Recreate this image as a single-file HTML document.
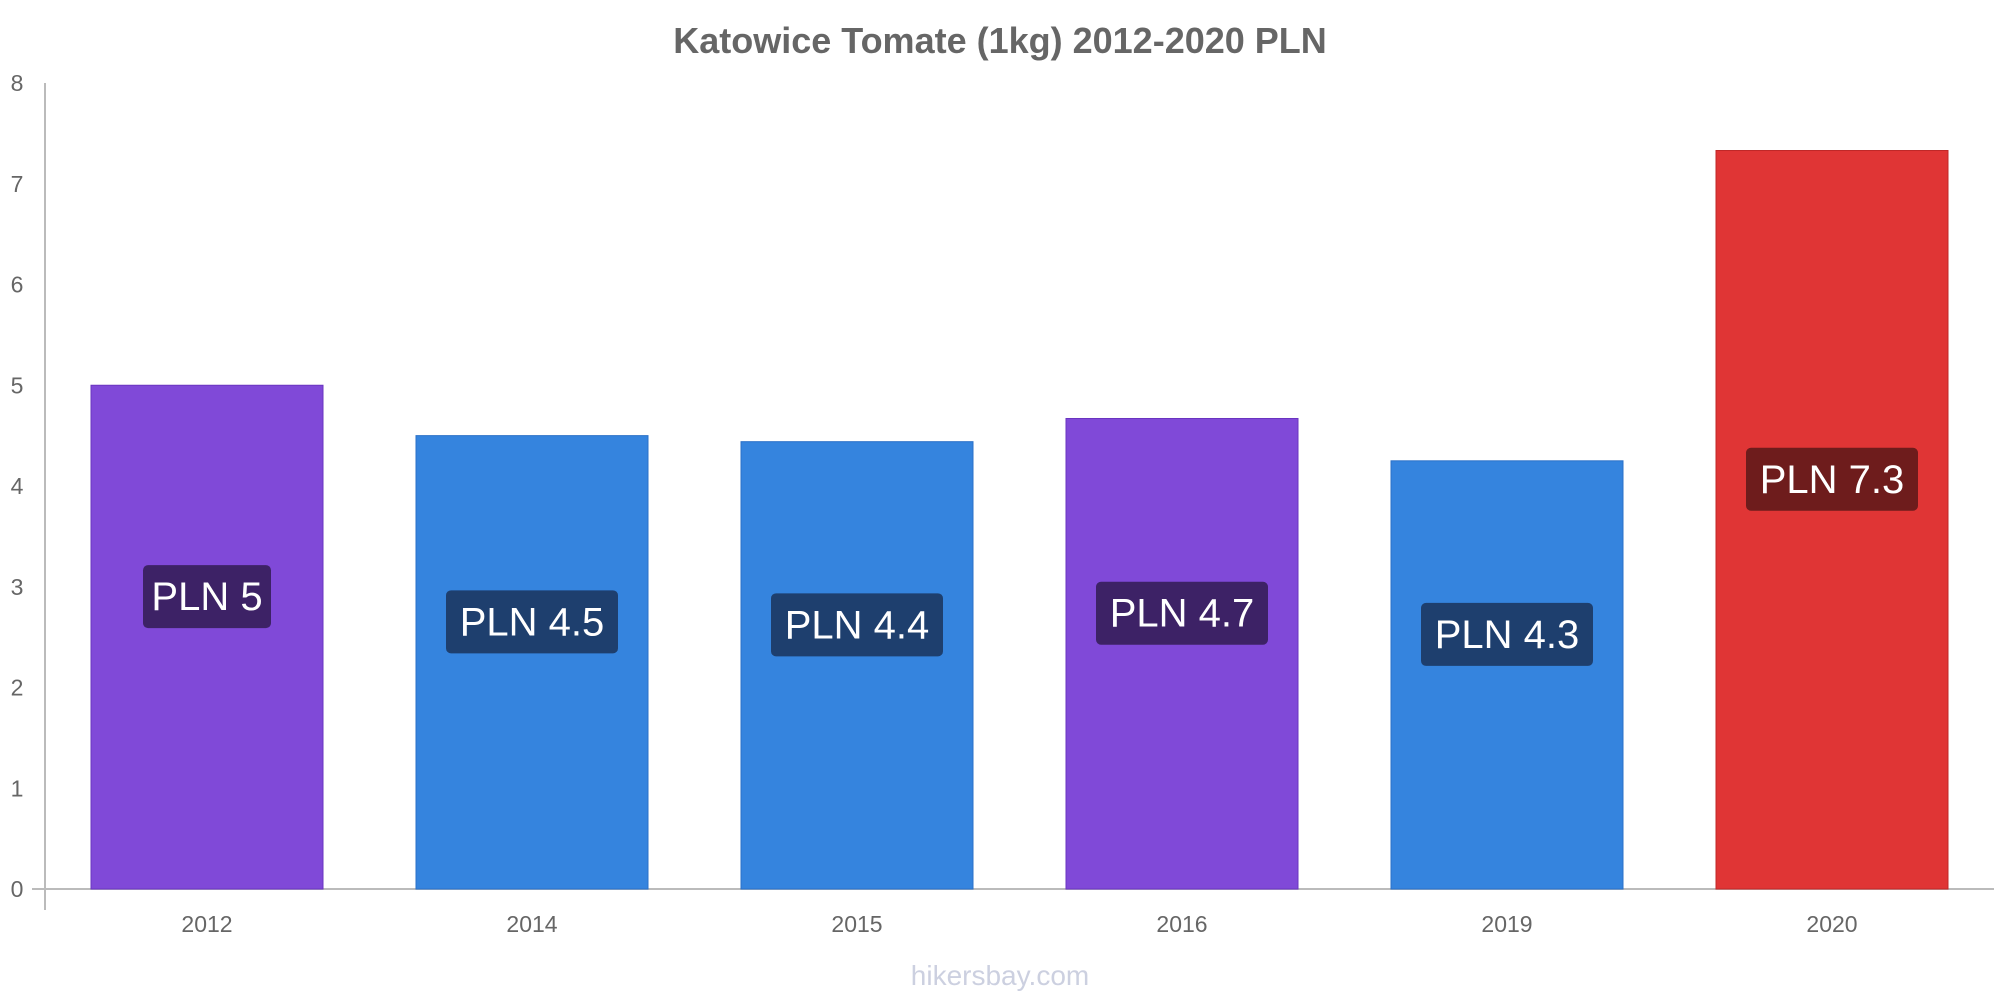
<!DOCTYPE html>
<html><head><meta charset="utf-8"><style>
body{margin:0;background:#fff}
svg text{font-family:"Liberation Sans",Arial,sans-serif}
</style></head><body>
<svg id="chart" width="2000" height="1000" xmlns="http://www.w3.org/2000/svg">
<text x="1000" y="53" text-anchor="middle" font-size="36" font-weight="bold" fill="#666">Katowice Tomate (1kg) 2012-2020 PLN</text>
<g id="axes"></g><g id="bars"></g>
<text x="1000" y="985" text-anchor="middle" font-size="28" fill="#ccd0e0">hikersbay.com</text>
</svg>
<script>
const categories=["2012","2014","2015","2016","2019","2020"];
const values=[5,4.5,4.44,4.67,4.25,7.33];
const labels=["PLN 5","PLN 4.5","PLN 4.4","PLN 4.7","PLN 4.3","PLN 7.3"];
const colorKeys=["p","b","b","p","b","r"];
const yTicks=[0,1,2,3,4,5,6,7,8];
const NS="http://www.w3.org/2000/svg";
const fill={p:"#8049d8",b:"#3584de",r:"#e03535"},dark={p:"#3d2266",b:"#1e3f6e",r:"#6e1c1c"},stroke={p:"#6a35c0",b:"#2a70c8",r:"#c02828"};
const x0=45,y0=889,yTop=83,yMax=8,step=325,barW=232,barOff=46;
const y=v=>y0-(v/yMax)*(y0-yTop);
const xb=i=>x0+barOff+i*step;
function mk(t,a,p){const e=document.createElementNS(NS,t);for(const k in a)e.setAttribute(k,a[k]);p.appendChild(e);return e;}
const ax=document.getElementById("axes"),bg=document.getElementById("bars");
let e=mk("line",{x1:x0,y1:yTop,x2:x0,y2:910,stroke:"#bbb","stroke-width":2},ax);


e=mk("line",{x1:32,y1:y0,x2:1994,y2:y0,stroke:"#bbb","stroke-width":2},ax);


yTicks.forEach(t=>{const tx=mk("text",{x:17,y:y(t)+8,"text-anchor":"middle","font-size":23,fill:"#666"},ax);tx.textContent=t;

});
categories.forEach((c,i)=>{
 const k=colorKeys[i],v=values[i],bx=xb(i),cx=bx+barW/2;
 const r=mk("rect",{x:bx,y:y(v),width:barW,height:y0-y(v),fill:fill[k],stroke:stroke[k],"stroke-width":1},bg);
 
 
 const cy=(y(v)+y0)/2-40;
 const w=labels[i].length*22+18;
 const lb=mk("rect",{x:cx-w/2,y:cy-32,width:w,height:63,rx:5,fill:dark[k]},bg);
 
 
 const lt=mk("text",{x:cx,y:cy+13,"text-anchor":"middle","font-size":40,fill:"#fff"},bg);lt.textContent=labels[i];
 
 
 const xt=mk("text",{x:cx,y:932,"text-anchor":"middle","font-size":23,fill:"#666"},bg);xt.textContent=c;
 
 
});
</script>
</body></html>
